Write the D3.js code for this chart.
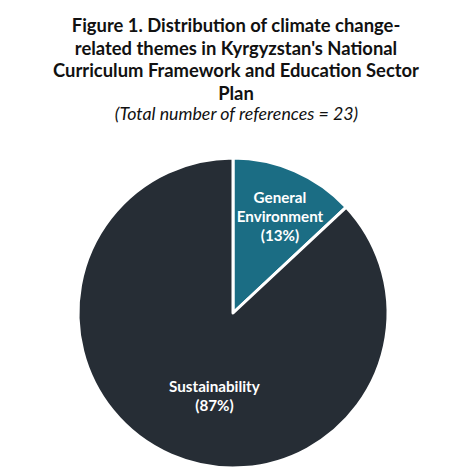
<!DOCTYPE html>
<html>
<head>
  <meta charset="utf-8">
  <script src="https://cdn.jsdelivr.net/npm/d3@7"></script>
  <style>
    body { margin: 0; background: #ffffff; }
    svg { display: block; }
    .title { font-family: Lato, sans-serif; font-weight: 700; font-size: 18.4px; fill: #111; }
    .subtitle { font-family: Lato, sans-serif; font-style: italic; font-size: 17.8px; fill: #111; }
    .label { font-family: Lato, sans-serif; font-weight: 700; font-size: 15.2px; fill: #fff; }
  </style>
</head>
<body>
  <svg width="474" height="474"></svg>
  <script>
    // data
    var titleLines = ["Figure 1. Distribution of climate change-",
      "related themes in Kyrgyzstan's National",
      "Curriculum Framework and Education Sector",
      "Plan"];
    var subtitle = "(Total number of references = 23)";
    var themes = ["General Environment", "Sustainability"];
    var counts = [3, 20];
    var labelLines = [["General", "Environment"], ["Sustainability"]];

    var svg = d3.select("svg"),
      width = +svg.attr("width");

    var cx = 233, cy = 313, radius = 155;

    var colour = d3.scaleOrdinal()
      .domain(themes)
      .range(["#1b6d84", "#262d35"]);

    //title
    svg.append("g")
      .selectAll("text")
      .data(titleLines)
      .enter()
      .append("text")
      .attr("class", "title")
      .attr("x", 236)
      .attr("y", function(d, i) { return 32 + i * 22.5; })
      .attr("text-anchor", "middle")
      .text(function(d) { return d; });

    svg.append("text")
      .attr("class", "subtitle")
      .attr("x", 236.5)
      .attr("y", 120)
      .attr("text-anchor", "middle")
      .text(subtitle);

    var total = d3.sum(counts);
    var pieData = themes.map(function(t, i) {
      return { name: t, value: counts[i], lines: labelLines[i] };
    });

    var pie = d3.pie()
      .sort(null)
      .value(function(d) { return d.value; });

    var arc = d3.arc().innerRadius(0).outerRadius(radius);

    var g = svg.append("g")
      .attr("transform", "translate(" + cx + "," + cy + ")");

    var slices = pie(pieData);

    g.selectAll("path")
      .data(slices)
      .enter()
      .append("path")
      .attr("d", arc)
      .attr("fill", function(d) { return colour(d.data.name); })
      .attr("stroke", "#fff")
      .attr("stroke-width", 3)
      .attr("stroke-linejoin", "round");

    // label placement: fraction of radius and angle shift (radians) from the slice's mid angle
    var labelRadius = [0.69, 0.55];
    var labelShift = [0.045, -0.19];
    var labels = g.selectAll("text")
      .data(slices)
      .enter()
      .append("text")
      .attr("class", "label")
      .attr("text-anchor", "middle")
      .attr("transform", function(d, i) {
        var a = (d.startAngle + d.endAngle) / 2 + labelShift[i];
        var r = radius * labelRadius[i];
        return "translate(" + (Math.sin(a) * r) + "," + (-Math.cos(a) * r) + ")";
      });

    labels.each(function(d) {
      var lines = d.data.lines.concat(["(" + Math.round(d.data.value / total * 100) + "%)"]);
      var n = lines.length;
      d3.select(this).selectAll("tspan")
        .data(lines)
        .enter()
        .append("tspan")
        .attr("x", 0)
        .attr("y", function(l, j) { return (j - (n - 1) / 2) * 19 + 5; })
        .text(function(l) { return l; });
    });
  </script>
</body>
</html>
